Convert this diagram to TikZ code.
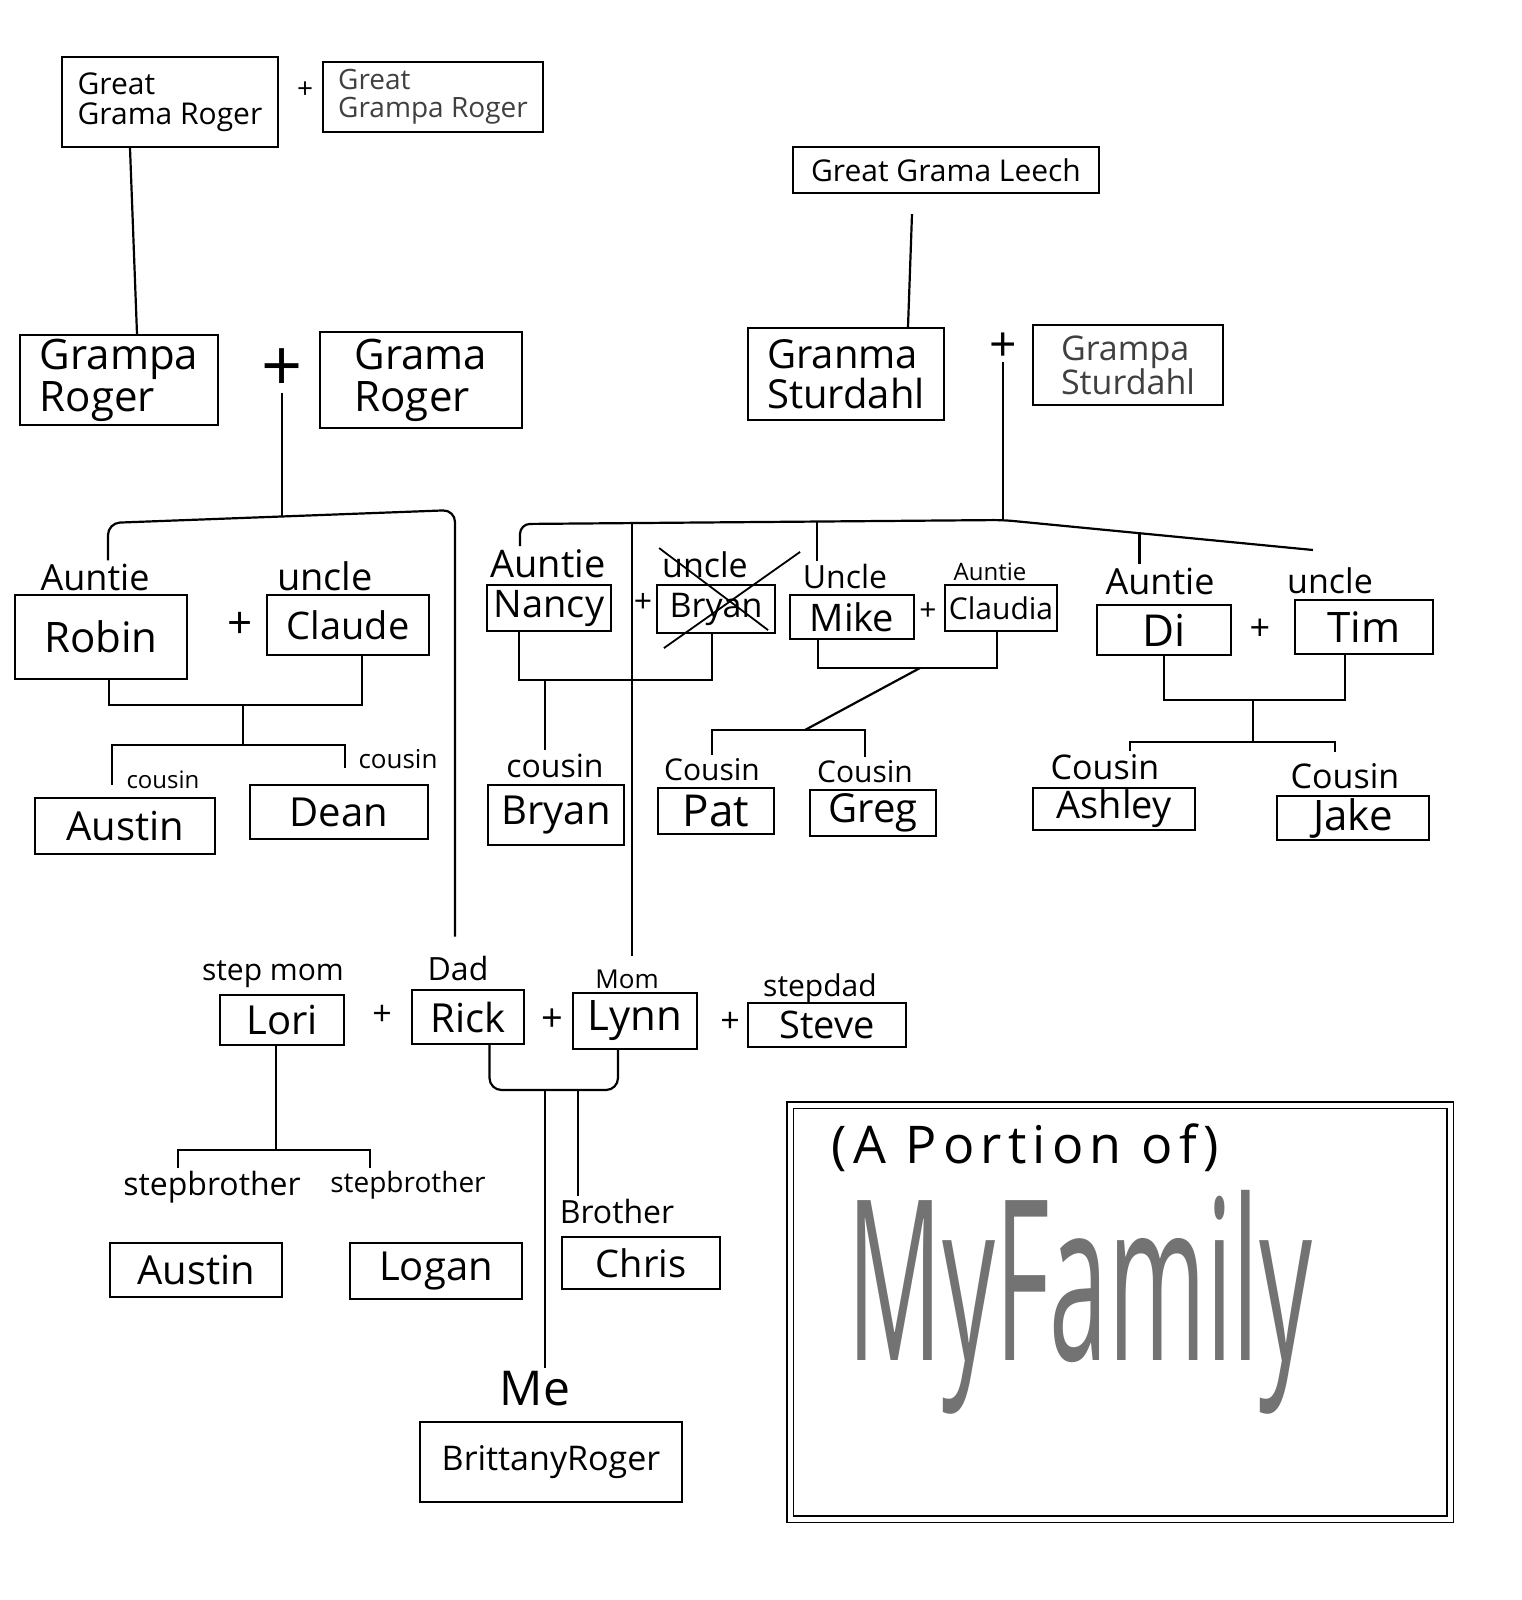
\documentclass[tikz,border=0pt]{standalone}
\usepackage{fontspec}
\setmainfont{Open Sans}
\usetikzlibrary{calc}
\newcommand{\hand}[1]{\fontsize{#1}{#1}\selectfont}

\begin{document}
\begin{tikzpicture}[x=0.5pt,y=-0.5pt,line width=1.1pt,
    box/.style 2 args={draw,inner sep=1pt,minimum width=#1,minimum height=#2},
    faint/.style={line width=0.6pt,text=black!75},
    tag/.style={inner sep=1pt,anchor=base},
    plus/.style={inner sep=0pt}]

  \path[use as bounding box,fill=white] (0,0) rectangle (1521,1600);

  \node[box={108pt}{45pt},align=left,font=\hand{15}]       (ggrama)  at (170,102)  {Great\\Grama Roger};
  \node[plus,font=\hand{14}]                                (plusA)   at (305,90)   {+};
  \node[box={110pt}{35pt},faint,align=left,font=\hand{14}] (ggrampa) at (433,97)   {Great\\Grampa Roger};
  \node[box={153pt}{23pt},font=\hand{15}]                  (ggleech) at (946,170)  {Great Grama Leech};

  \node[box={99pt}{45pt},align=left,font=\hand{21}]        (grampaR) at (119,380)  {Grampa\\Roger};
  \node[plus,font=\hand{36}]                                (plusB)   at (282,370)  {+};
  \node[box={101pt}{48pt},align=left,font=\hand{21}]       (gramaR)  at (421,380)  {Grama\\Roger};
  \node[box={98pt}{46pt},align=left,font=\hand{20}]        (granmaS) at (846,374)  {Granma\\Sturdahl};
  \node[plus,font=\hand{24}]                                (plusC)   at (1003,347) {+};
  \node[box={95pt}{40pt},faint,align=left,font=\hand{17}]  (grampaS) at (1128,365) {Grampa\\Sturdahl};

  \node[tag,font=\hand{18}]                (auntieR)  at (95,590)   {Auntie};
  \node[box={86pt}{42pt},font=\hand{21}]   (robin)    at (101,637)  {Robin};
  \node[plus,font=\hand{22}]               (plusD)    at (240,625)  {+};
  \node[tag,font=\hand{19}]                (uncleC)   at (325,590)  {uncle};
  \node[box={81pt}{30pt},font=\hand{19}]   (claude)   at (348,625)  {Claude};
  \node[tag,font=\hand{12}]                (cousinAu) at (163,788)  {cousin};
  \node[box={90pt}{28pt},font=\hand{20}]   (austinC)  at (125,826)  {Austin};
  \node[tag,font=\hand{13}]                (cousinD)  at (398,768)  {cousin};
  \node[box={89pt}{27pt},font=\hand{20}]   (dean)     at (339,812)  {Dean};

  \node[tag,font=\hand{19}]                (auntieN)  at (548,577)  {Auntie};
  \node[box={62pt}{23pt},font=\hand{19}]   (nancy)    at (549,608)  {Nancy};
  \node[plus,font=\hand{16}]               (plusE)    at (643,603)  {+};
  \node[tag,font=\hand{17}]                (uncleB)   at (705,577)  {uncle};
  \node[box={59pt}{24pt},font=\hand{17}]   (bryanX)   at (716,609)  {Bryan};
  \node[tag,font=\hand{16}]                (uncleM)   at (845,588)  {Uncle};
  \node[box={62pt}{22pt},font=\hand{19}]   (mike)     at (852,617)  {Mike};
  \node[plus,font=\hand{15}]               (plusF)    at (928,612)  {+};
  \node[tag,font=\hand{12}]                (auntieC)  at (990,580)  {Auntie};
  \node[box={56pt}{23pt},font=\hand{15}]   (claudia)  at (1001,608) {Claudia};
  \node[tag,font=\hand{16}]                (cousinB)  at (555,777)  {cousin};
  \node[box={68pt}{30pt},font=\hand{20}]   (bryanC)   at (556,815)  {Bryan};
  \node[tag,font=\hand{15}]                (cousinP)  at (712,780)  {Cousin};
  \node[box={58pt}{23pt},font=\hand{22}]   (pat)      at (716,811)  {Pat};
  \node[tag,font=\hand{15}]                (cousinG)  at (865,782)  {Cousin};
  \node[box={63pt}{23pt},font=\hand{20}]   (greg)     at (873,813)  {Greg};
  \node[tag,font=\hand{18}]                (auntieD)  at (1160,594) {Auntie};
  \node[box={67pt}{25pt},font=\hand{22}]   (di)       at (1164,630) {Di};
  \node[plus,font=\hand{18}]               (plusG)    at (1260,630) {+};
  \node[tag,font=\hand{17}]                (uncleT)   at (1330,593) {uncle};
  \node[box={69pt}{27pt},font=\hand{21}]   (tim)      at (1364,627) {Tim};
  \node[tag,font=\hand{17}]                (cousinA)  at (1105,779) {Cousin};
  \node[box={81pt}{21pt},font=\hand{19}]   (ashley)   at (1114,809) {Ashley};
  \node[tag,font=\hand{17}]                (cousinJ)  at (1345,788) {Cousin};
  \node[box={76pt}{21pt},font=\hand{21}]   (jake)     at (1353,818) {Jake};

  \node[tag,font=\hand{15}]                (stepmom)  at (273,980)  {step mom};
  \node[box={62pt}{25pt},font=\hand{20}]   (lori)     at (282,1020) {Lori};
  \node[plus,font=\hand{17}]               (plusH)    at (382,1015) {+};
  \node[tag,font=\hand{16}]                (dad)      at (458,980)  {Dad};
  \node[box={56pt}{27pt},font=\hand{20}]   (rick)     at (468,1017) {Rick};
  \node[plus,font=\hand{19}]               (plusI)    at (552,1020) {+};
  \node[tag,font=\hand{13}]                (mom)      at (627,988)  {Mom};
  \node[box={62pt}{28pt},font=\hand{21}]   (lynn)     at (635,1021) {Lynn};
  \node[plus,font=\hand{17}]               (plusJ)    at (730,1022) {+};
  \node[tag,font=\hand{15}]                (stepdad)  at (820,996)  {stepdad};
  \node[box={79pt}{22pt},font=\hand{19}]   (steve)    at (827,1025) {Steve};
  \node[tag,font=\hand{16}]                (sbA)      at (212,1195) {stepbrother};
  \node[tag,font=\hand{14}]                (sbL)      at (408,1192) {stepbrother};
  \node[box={86pt}{27pt},font=\hand{20}]   (austinS)  at (196,1270) {Austin};
  \node[box={86pt}{28pt},font=\hand{20}]   (logan)    at (436,1271) {Logan};
  \node[tag,font=\hand{16}]                (brother)  at (617,1223) {Brother};
  \node[box={79pt}{26pt},font=\hand{19}]   (chris)    at (641,1263) {Chris};
  \node[tag,font=\hand{24}]                (me)       at (535,1405) {Me};
  \node[box={131pt}{40pt},font=\hand{17}]  (brittany) at (551,1462) {BrittanyRoger};

  \node[draw,double,double distance=2.5pt,line width=0.9pt,minimum width=330pt,minimum height=207pt] (title) at (1120,1312) {};
  \node[tag,font=\hand{26}\addfontfeature{LetterSpace=12}] (portion) at (1025,1163) {(A Portion of)};
  \node[font=\hand{112},xscale=0.47,text=black!55,anchor=base] (myfamily) at (1080,1360) {MyFamily};

  \coordinate (rjoin)  at (282,516);
  \coordinate (rleft)  at (108,523);
  \coordinate (rright) at (455,510);
  \coordinate (sleft)  at (520,524);
  \coordinate (sjoin)  at (1003,520);
  \coordinate (send)   at (1313,550);
  \coordinate (smom)   at (632,523);
  \coordinate (smike)  at (817,521);
  \coordinate (sdi)    at ($(sjoin)!0.44!(send)$);
  \coordinate (rcjoin) at (243,705);
  \coordinate (rckids) at (243,745);
  \coordinate (nbjoin) at (545,680);
  \coordinate (mcjoin) at (920,668);
  \coordinate (mckids) at (805,730);
  \coordinate (dtjoin) at (1253,700);
  \coordinate (dtkids) at (1253,742);
  \coordinate (rljoin) at (545,1090);
  \coordinate (rlbro)  at (578,1090);
  \coordinate (lkids)  at (276,1150);

  \draw ($(ggrama.south)+(-20pt,0)$) -- ($(grampaR.north)+(9pt,0)$);
  \draw ($(ggleech.south)+(-17pt,-10pt)$) -- ($(granmaS.north)+(31pt,0)$);

  \draw (plusB.south) -- (rjoin);
  \draw[rounded corners=6pt,shorten >=8pt] (rleft |- auntieR.north) -- (rleft) -- (rright) -- (rright |- dad.north);
  \draw (plusC.south) -- (sjoin);
  \draw[rounded corners=5pt] (sleft |- auntieN.north) -- (sleft) -- (sjoin) -- (send);
  \draw[shorten >=5pt] (smom) -- (smom |- mom.north);
  \draw (smike) -- (smike |- uncleM.north);
  \draw (sdi) -- (sdi |- auntieD.north);

  \draw ($(robin.south)+(4pt,0)$) |- (rcjoin) -| ($(claude.south)+(7pt,0)$);
  \draw (rcjoin) -- (rckids);
  \draw ($(austinC.north)+(-6.5pt,6pt)$) |- (rckids) -| ($(dean.north)+(3pt,8pt)$);

  \draw ($(nancy.south)+(-15pt,0)$) |- (nbjoin) -| ($(bryanX.south)+(-2pt,0)$);
  \draw (nbjoin) -- (nbjoin |- cousinB.north);
  \draw[line width=0.9pt] (uncleB.north west) -- ($(bryanX.south east)+(-4pt,2pt)$);
  \draw[line width=0.9pt] ($(bryanX.south west)+(4pt,-7pt)$) -- ($(bryanX.north east)+(12pt,16pt)$);

  \draw ($(mike.south)+(-17pt,0)$) |- (mcjoin) -| ($(claudia.south)+(-2pt,0)$);
  \draw (mcjoin) -- (mckids);
  \draw (cousinP.north) |- (mckids) -| (cousinG.north);

  \draw (di.south) |- (dtjoin) -| ($(tim.south)+(-9.5pt,0)$);
  \draw (dtjoin) -- (dtkids);
  \draw ($(cousinA.north)+(12.5pt,0)$) |- (dtkids) -| ($(cousinJ.north)+(-5pt,4pt)$);

  \draw[rounded corners=6pt] ($(rick.south)+(10.75pt,0)$) |- (rljoin) -| ($(lynn.south)+(-8.5pt,0)$);
  \draw (rljoin) -- (rljoin |- me.north);
  \draw (rlbro) -- (rlbro |- brother.north);

  \draw (lkids |- lori.south) -- (lkids);
  \draw ($(sbA.north)+(-17pt,0)$) |- (lkids) -| ($(sbL.north)+(-19pt,0)$);

\end{tikzpicture}
\end{document}
